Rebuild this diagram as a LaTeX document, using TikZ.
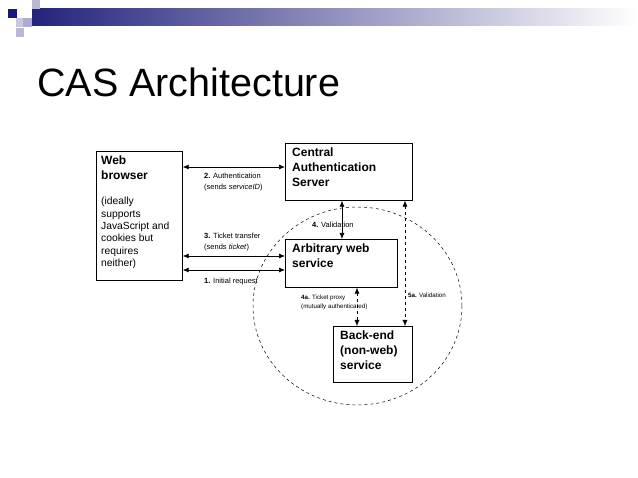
\documentclass[tikz,border=0pt]{standalone}
\usepackage{fontspec}
\setmainfont{Liberation Sans}
\usetikzlibrary{arrows.meta}
\definecolor{hdark}{RGB}{25,25,125}
\definecolor{hgrad}{RGB}{35,35,125}
\definecolor{hl1}{RGB}{185,185,215}
\definecolor{hl2}{RGB}{200,200,225}
\definecolor{hl3}{RGB}{170,170,210}
\begin{document}
\begin{tikzpicture}[x=1pt,y=-1pt,
  box/.style={draw,line width=0.7pt,anchor=north west,inner sep=0pt},
  btxt/.style={anchor=north west,align=left,font=\fontsize{12}{15}\selectfont\bfseries,inner sep=0pt},
  lbl/.style={anchor=north west,align=left,font=\fontsize{7.5}{10.5}\selectfont,inner sep=0pt},
  slbl/.style={anchor=north west,align=left,font=\fontsize{6.2}{9}\selectfont,inner sep=0pt},
  arr/.style={{Latex[length=6pt,width=5pt]}-{Latex[length=6pt,width=5pt]},line width=0.7pt},
  darr/.style={arr,dashed,line width=0.5pt}]
\useasboundingbox (0,0) rectangle (638,478);
\fill[white] (0,0) rectangle (638,478);
% header
\shade[left color=hgrad,right color=white] (32,9) rectangle (638,26);
\fill[hl1] (32,0) rectangle (40,9);
\fill[hl2] (16,18) rectangle (32,27);
\fill[hl3] (23,18) rectangle (32,27);
\fill[hl1] (16,28) rectangle (24,37);
\fill[hdark] (8,9) rectangle (17,18);
\node[anchor=west,font=\fontsize{39.5}{41}\selectfont,inner sep=0pt] (title) at (37,82) {CAS Architecture};
% circle
\draw[dashed,line width=0.5pt] (357.5,306) ellipse [x radius=104.5,y radius=99];
% boxes
\node[box,minimum width=86,minimum height=129] (web) at (96,151) {};
\node[box,minimum width=127,minimum height=57] (cas) at (285,143) {};
\node[box,minimum width=112,minimum height=48] (arb) at (285,239) {};
\node[box,minimum width=79,minimum height=56] (back) at (333,326) {};
\node[btxt] (webt) at (101,156) {Web\\browser};
\node[anchor=north west,align=left,font=\fontsize{10.3}{12.4}\selectfont,inner sep=0pt] (webd) at (101,197) {(ideally\\supports\\JavaScript and\\cookies but\\requires\\neither)};
\node[btxt] (cast) at (292,148) {Central\\Authentication\\Server};
\node[btxt] (arbt) at (292,244) {Arbitrary web\\service};
\node[btxt] (backt) at (340,331) {Back-end\\(non-web)\\service};
% connectors
\draw[arr] (web.east |- 0,167) -- (cas.west |- 0,167);
\draw[arr] (web.east |- 0,256) -- (arb.west |- 0,256);
\draw[arr] (web.east |- 0,270) -- (arb.west |- 0,270);
\draw[arr] (cas.south -| 342,0) -- (arb.north -| 342,0);
\draw[darr] (arb.south -| 357,0) -- (back.north -| 357,0);
\draw[darr] (cas.south -| 405,0) -- (back.north -| 405,0);
% labels
\node[lbl] (l2) at (204,173) {\textbf{2.} Authentication\\(sends \textit{serviceID})};
\node[lbl] (l3) at (204,233) {\textbf{3.} Ticket transfer\\(sends \textit{ticket})};
\node[lbl] (l1) at (204,278) {\textbf{1.} Initial request};
\node[lbl] (l4) at (312,222) {\textbf{4.} Validation};
\node[slbl] (l4a) at (301,295) {\textbf{4a.} Ticket proxy\\(mutually authenticated)};
\node[slbl] (l5a) at (408,293) {\textbf{5a.} Validation};
\end{tikzpicture}
\end{document}
